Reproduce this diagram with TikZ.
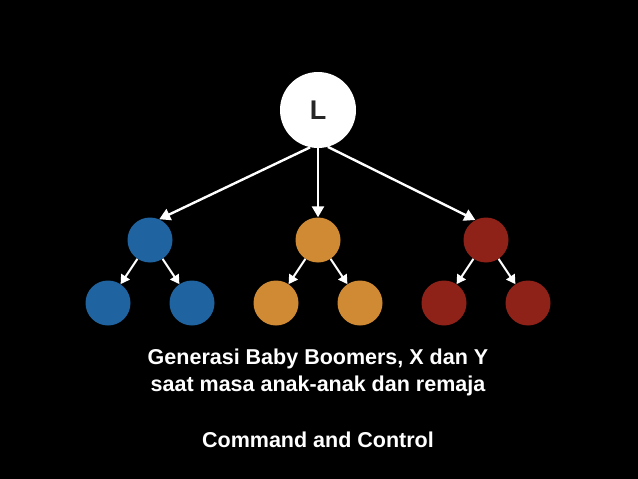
\documentclass[tikz,border=0pt]{standalone}
\usepackage{fontspec}
\setmainfont{Liberation Sans}
\usetikzlibrary{arrows.meta}
\definecolor{cblue}{HTML}{1F64A0}
\definecolor{corange}{HTML}{D08A33}
\definecolor{cred}{HTML}{8E2219}
\begin{document}
\begin{tikzpicture}[x=1pt,y=-1pt,
  big/.style={circle,fill=white,minimum size=76pt,inner sep=0pt,font=\fontsize{27}{30}\selectfont\bfseries,text=black!85},
  dot/.style={circle,fill=#1,minimum size=45pt,inner sep=0pt},
  arr/.style={white,line width=2.4pt,-{Triangle[length=11pt,width=12pt]}},
  sarr/.style={white,line width=2pt,-{Triangle[length=9pt,width=10pt]}},
  lbl/.style={text=white,font=\fontsize{21.5}{27}\selectfont\bfseries,align=center}]
\fill[black] (0,0) rectangle (638,479);
\useasboundingbox (0,0) rectangle (638,479);
\node[big] (L) at (318,110) {L};
\foreach \n/\x/\c in {b/150/cblue,o/318/corange,r/486/cred}{
  \node[dot=\c] (\n) at (\x,240) {};
  \node[dot=\c] (\n1) at (\x-42,303) {};
  \node[dot=\c] (\n2) at (\x+42,303) {};
  \draw[sarr] (\n) -- (\n1);
  \draw[sarr] (\n) -- (\n2);
}
\draw[arr] (L.258) -- (b.66);
\draw[arr] (L.south) -- (o.north);
\draw[arr] (L.285) -- (r.118);
\node[lbl] (t1) at (318,372) {Generasi Baby Boomers, X dan Y\\saat masa anak-anak dan remaja};
\node[lbl] (t2) at (318,440) {Command and Control};
\end{tikzpicture}
\end{document}
